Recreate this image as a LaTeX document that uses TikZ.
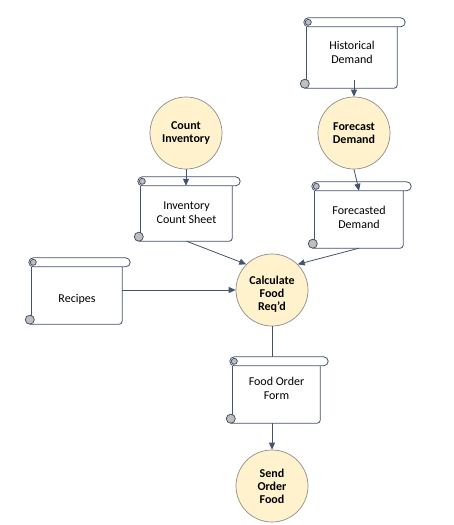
\documentclass[tikz,border=0pt]{standalone}
\usepackage{fontspec}
\setmainfont{Carlito}
\usetikzlibrary{arrows.meta,calc}
\definecolor{lineC}{HTML}{44546A}
\definecolor{circF}{HTML}{FFF2CC}
\definecolor{circD}{HTML}{8C8C8C}
\definecolor{curlF}{HTML}{BFBFBF}
\tikzset{
  scrolledge/.style={draw=lineC, line width=0.8pt},
  circ/.style={circle, draw=circD, line width=0.7pt, fill=circF, minimum size=72pt, inner sep=0pt,
    align=center, font=\bfseries\fontsize{12}{13}\selectfont},
  body/.style={rectangle, fill=white, inner sep=0pt, font=\fontsize{12}{14}\selectfont},
  conn/.style={draw=lineC, line width=0.8pt},
  arr/.style={conn, -{Triangle[length=7pt,width=6pt]}},
}
\newcommand\scrolldeco[1]{%
  \coordinate (#1-top) at ($(#1.north)+(0,-9)$);
  \draw[scrolledge] (#1.north west) -- ($(#1.south west)+(0,-4)$);
  \draw[scrolledge, rounded corners=3pt] ($(#1.south west)+(-2,0)$) -- (#1.south east) -- (#1.north east);
  \draw[scrolledge, fill=white, rounded corners=4.5pt] ($(#1.north west)+(-3,0)$) rectangle ($(#1.north east)+(8,-9)$);
  \draw[scrolledge, fill=curlF] ($(#1.north west)+(1.5,-4.5)$) circle (3pt);
  \draw[scrolledge, fill=curlF] ($(#1.south west)+(-2,-4.5)$) circle (4.5pt);
}
\newcommand\txt[2]{\raisebox{#1}[\height][\depth]{\begin{tabular}{@{}c@{}}#2\end{tabular}}}
\begin{document}
\begin{tikzpicture}[x=1pt,y=-1pt]
\useasboundingbox[fill=white] (0,0) rectangle (454,525);
% documents
\node[body, minimum width=90pt, minimum height=61pt] (hd) at (352,57.5) {\txt{4pt}{Historical\\Demand}};
\scrolldeco{hd}
\node[body, minimum width=91pt, minimum height=55pt] (ics) at (186.5,213.5) {\txt{0pt}{Inventory\\Count Sheet}};
\scrolldeco{ics}
\node[body, minimum width=88pt, minimum height=57pt] (fd) at (359,219.5) {\txt{1pt}{Forecasted\\Demand}};
\scrolldeco{fd}
\node[body, minimum width=90pt, minimum height=57pt] (rec) at (77,295.5) {\txt{-4pt}{Recipes}};
\scrolldeco{rec}
\node[body, minimum width=87pt, minimum height=57pt] (fof) at (276.5,394.5) {\txt{5pt}{Food Order\\Form}};
\scrolldeco{fof}
% processes
\node[circ] (ci) at (186,133) {Count\\Inventory};
\node[circ] (fdm) at (354,133) {Forecast\\Demand};
\node[circ] (calc) at (272,290) {\txt{-5pt}{Calculate\\Food\\Req’d}};
\node[circ] (send) at (272,486) {Send\\Order\\Food};
% connectors
\draw[arr, shorten <=-8pt] (fdm.north |- hd.south) -- (fdm.north);
\draw[arr] (ci.south) -- (ci.south |- ics.north);
\draw[arr] (fdm.south) -- (fd.north);
\draw[arr] (ics.south) -- (calc.135);
\draw[arr] (fd.south) -- (calc.45);
\draw[arr] (rec.east |- calc.west) -- (calc.west);
\draw[conn] (calc.south) -- (calc.south |- fof-top);
\draw[arr] (send.north |- fof.south) -- (send.north);
\end{tikzpicture}
\end{document}
